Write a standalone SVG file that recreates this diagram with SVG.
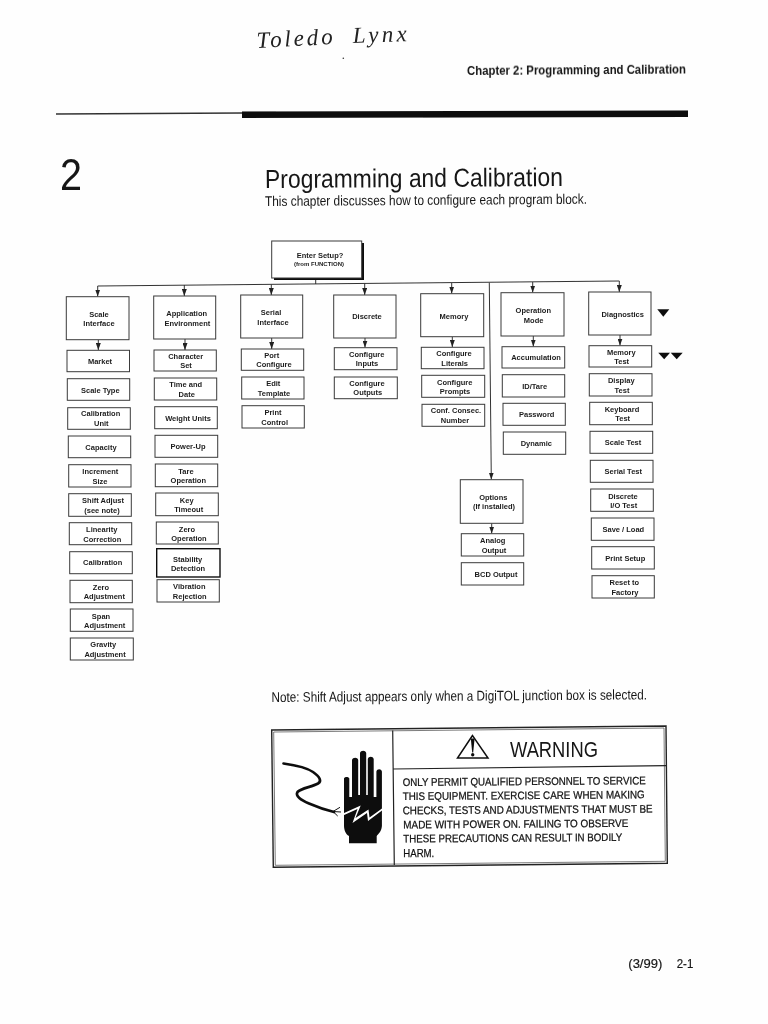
<svg xmlns="http://www.w3.org/2000/svg" width="768" height="1024" viewBox="0 0 768 1024">
<defs>
<style>
.n rect{fill:#fff;stroke:#3a3a3a;stroke-width:1}
.n text{font:bold 7.5px "Liberation Sans",Arial,sans-serif;fill:#1c1c1c;text-anchor:middle}
.c line,.c path{stroke:#333;stroke-width:1;fill:none}
.c .a{marker-end:url(#arr)}
.t{font-family:"Liberation Sans",Arial,sans-serif;fill:#161616}
.h{font-family:"Liberation Serif",serif;font-style:italic;fill:#222}
.w{font-size:11px;font-family:"Liberation Sans",Arial,sans-serif;fill:#111;stroke:#111;stroke-width:.25}
</style>
<marker id="arr" markerUnits="userSpaceOnUse" markerWidth="5" markerHeight="7" refX="2.5" refY="7" orient="0" viewBox="0 0 5 7"><path d="M0 0H5L2.5 7Z" fill="#222"/></marker>
<filter id="scan" x="0" y="0" width="100%" height="100%"><feGaussianBlur stdDeviation="0.35"/></filter>
</defs>
<rect width="768" height="1024" fill="#fefefe"/>
<g filter="url(#scan)">
<text class="h" x="257" y="48" font-size="23" textLength="76" lengthAdjust="spacing" transform="rotate(-3 257 48)">Toledo</text>
<text class="h" x="353" y="43" font-size="23" textLength="54" lengthAdjust="spacing" transform="rotate(-2 353 43)">Lynx</text>
<circle cx="343.3" cy="58.3" r="0.8" fill="#333"/>
<text class="t" x="467" y="75" font-size="12.5" font-weight="bold" textLength="219" lengthAdjust="spacingAndGlyphs" transform="rotate(-0.4 467 75)">Chapter 2: Programming and Calibration</text>
<path d="M56 114L242 113" stroke="#333" stroke-width="1.3" fill="none"/>
<path d="M242 111.5L688 110.5V117L242 118Z" fill="#0c0c0c"/>
<text class="t" x="60" y="190" font-size="44" textLength="22" lengthAdjust="spacingAndGlyphs">2</text>
<text class="t" x="265" y="188" font-size="26" textLength="298" lengthAdjust="spacingAndGlyphs" transform="rotate(-0.4 265 188)">Programming and Calibration</text>
<text class="t" x="265" y="206" font-size="14" textLength="322" lengthAdjust="spacingAndGlyphs" transform="rotate(-0.4 265 206)">This chapter discusses how to configure each program block.</text>

<g id="connectors" class="c">
<path d="M315.7 278V284"/>
<path d="M97.7 286L619.3 281"/>
<line class="a" x1="97.7" y1="286" x2="97.7" y2="296.5"/>
<line class="a" x1="184.3" y1="285" x2="184.3" y2="296"/>
<line class="a" x1="271.3" y1="284.5" x2="271.3" y2="295"/>
<line class="a" x1="364.7" y1="283.5" x2="364.7" y2="295"/>
<line class="a" x1="451.7" y1="283" x2="451.7" y2="293.5"/>
<line class="a" x1="532.7" y1="282" x2="532.7" y2="292.5"/>
<line class="a" x1="619.3" y1="281" x2="619.3" y2="292"/>
<line class="a" x1="98.3" y1="340" x2="98.3" y2="350"/>
<line class="a" x1="185" y1="339" x2="185" y2="350"/>
<line class="a" x1="271.7" y1="338" x2="271.7" y2="349"/>
<line class="a" x1="365" y1="338" x2="365" y2="347.5"/>
<line class="a" x1="452.3" y1="336.7" x2="452.3" y2="347"/>
<line class="a" x1="533.3" y1="336" x2="533.3" y2="346.5"/>
<line class="a" x1="620" y1="335" x2="620" y2="345.5"/>
<line class="a" x1="489.3" y1="282.5" x2="491.3" y2="479.5"/>
<line class="a" x1="491.7" y1="523.3" x2="491.7" y2="533.5"/>
</g>

<g id="enter-setup" class="n"><path d="M274 243H364V280H274Z" fill="#0c0c0c"/><rect x="271.7" y="241" width="90" height="37"/><text x="320" y="258">Enter Setup?</text><text x="319" y="266.3" style="font-size:6px">(from FUNCTION)</text></g>

<g id="scale-interface" class="n"><rect x="66.3" y="296.7" width="62.7" height="43"/><text x="99" y="317">Scale</text><text x="99" y="326.3">Interface</text></g>
<g id="application-environment" class="n"><rect x="153.7" y="296" width="62" height="43"/><text x="186.7" y="316">Application</text><text x="187.3" y="325.7">Environment</text></g>
<g id="serial-interface" class="n"><rect x="240.7" y="295" width="62" height="43"/><text x="271" y="315.3">Serial</text><text x="273" y="325">Interface</text></g>
<g id="discrete" class="n"><rect x="333.7" y="295" width="62.3" height="43"/><text x="367" y="319.3">Discrete</text></g>
<g id="memory" class="n"><rect x="420.7" y="293.7" width="63" height="43"/><text x="454" y="319">Memory</text></g>
<g id="operation-mode" class="n"><rect x="501" y="292.7" width="63" height="43.3"/><text x="533.3" y="313">Operation</text><text x="533.6" y="322.7">Mode</text></g>
<g id="diagnostics" class="n"><rect x="588.7" y="292" width="62.3" height="43"/><text x="622.7" y="317">Diagnostics</text></g>

<g id="market" class="n"><rect x="67" y="350.3" width="62.5" height="21.4"/><text x="100" y="364">Market</text></g>
<g id="scale-type" class="n"><rect x="67.3" y="378.7" width="62.4" height="21.6"/><text x="100.3" y="393">Scale Type</text></g>
<g id="calibration-unit" class="n"><rect x="67.7" y="407.7" width="62.6" height="21.6"/><text x="100.7" y="416.3">Calibration</text><text x="101.3" y="426.3">Unit</text></g>
<g id="capacity" class="n"><rect x="68.3" y="436" width="62.4" height="21.7"/><text x="101" y="450.3">Capacity</text></g>
<g id="increment-size" class="n"><rect x="68.7" y="464.7" width="62.3" height="22.3"/><text x="100.3" y="474.3">Increment</text><text x="100" y="484">Size</text></g>
<g id="shift-adjust" class="n"><rect x="68.7" y="493.7" width="62.6" height="22.6"/><text x="103" y="503.3">Shift Adjust</text><text x="102" y="513">(see note)</text></g>
<g id="linearity-correction" class="n"><rect x="69.3" y="522.7" width="62.4" height="22"/><text x="101.7" y="532">Linearity</text><text x="102.3" y="541.7">Correction</text></g>
<g id="calibration" class="n"><rect x="69.7" y="551.7" width="62.6" height="22"/><text x="102.7" y="565.3">Calibration</text></g>
<g id="zero-adjustment" class="n"><rect x="70" y="580.3" width="62.3" height="22.4"/><text x="101" y="590">Zero</text><text x="104.3" y="599.3">Adjustment</text></g>
<g id="span-adjustment" class="n"><rect x="70.3" y="609" width="62.7" height="22.3"/><text x="101" y="618.7">Span</text><text x="104.7" y="628">Adjustment</text></g>
<g id="gravity-adjustment" class="n"><rect x="70.3" y="638" width="63" height="22"/><text x="103.3" y="647.3">Gravity</text><text x="105" y="657">Adjustment</text></g>

<g id="character-set" class="n"><rect x="154" y="350" width="62.3" height="21"/><text x="185.7" y="358.7">Character</text><text x="186" y="368">Set</text></g>
<g id="time-date" class="n"><rect x="154.3" y="378" width="62.4" height="22"/><text x="185.7" y="387">Time and</text><text x="186.7" y="396.7">Date</text></g>
<g id="weight-units" class="n"><rect x="154.7" y="406.7" width="62.6" height="22"/><text x="188" y="420.7">Weight Units</text></g>
<g id="power-up" class="n"><rect x="155" y="435.3" width="62.7" height="22"/><text x="188" y="449.3">Power-Up</text></g>
<g id="tare-operation" class="n"><rect x="155.3" y="464" width="62.4" height="22.7"/><text x="186" y="473.7">Tare</text><text x="188.3" y="483.3">Operation</text></g>
<g id="key-timeout" class="n"><rect x="155.7" y="493" width="62.6" height="22.7"/><text x="186.7" y="503">Key</text><text x="188.7" y="512">Timeout</text></g>
<g id="zero-operation" class="n"><rect x="156.3" y="522" width="62" height="22"/><text x="187" y="531.7">Zero</text><text x="189" y="541">Operation</text></g>
<g id="stability-detection" class="n"><rect x="156.7" y="548.7" width="63.3" height="28.3" style="stroke:#111;stroke-width:1.4"/><text x="187.7" y="561.7">Stability</text><text x="188" y="571">Detection</text></g>
<g id="vibration-rejection" class="n"><rect x="157" y="579.7" width="62.3" height="22.3"/><text x="189.3" y="589">Vibration</text><text x="189.7" y="598.7">Rejection</text></g>

<g id="port-configure" class="n"><rect x="241.3" y="349" width="62.4" height="21.3"/><text x="271.7" y="358">Port</text><text x="274" y="367.3">Configure</text></g>
<g id="edit-template" class="n"><rect x="241.7" y="377" width="62.3" height="22"/><text x="273.3" y="386.3">Edit</text><text x="274" y="396">Template</text></g>
<g id="print-control" class="n"><rect x="242" y="405.7" width="62.3" height="22.3"/><text x="273" y="415">Print</text><text x="274.7" y="424.7">Control</text></g>

<g id="configure-inputs" class="n"><rect x="334.3" y="347.7" width="62.7" height="22"/><text x="366.7" y="357">Configure</text><text x="367" y="366.3">Inputs</text></g>
<g id="configure-outputs" class="n"><rect x="334.3" y="377" width="63" height="21.7"/><text x="367" y="385.7">Configure</text><text x="367.7" y="395">Outputs</text></g>

<g id="configure-literals" class="n"><rect x="421.3" y="347.3" width="62.7" height="21.4"/><text x="454" y="356.3">Configure</text><text x="454.7" y="365.7">Literals</text></g>
<g id="configure-prompts" class="n"><rect x="421.7" y="375.3" width="63" height="22"/><text x="454.7" y="384.7">Configure</text><text x="455" y="394.3">Prompts</text></g>
<g id="conf-consec-number" class="n"><rect x="422" y="404.3" width="62.7" height="22"/><text x="456" y="413.3">Conf. Consec.</text><text x="455" y="423">Number</text></g>

<g id="accumulation" class="n"><rect x="502" y="346.7" width="62.7" height="21.3"/><text x="536" y="360.3">Accumulation</text></g>
<g id="id-tare" class="n"><rect x="502.3" y="374.7" width="62.4" height="22.3"/><text x="534.7" y="389">ID/Tare</text></g>
<g id="password" class="n"><rect x="503" y="403.3" width="62.3" height="22"/><text x="536.7" y="417.3">Password</text></g>
<g id="dynamic" class="n"><rect x="503.3" y="432" width="62.4" height="22.3"/><text x="536.3" y="446">Dynamic</text></g>

<g id="memory-test" class="n"><rect x="589" y="345.7" width="62.7" height="21.3"/><text x="621.3" y="354.7">Memory</text><text x="621.7" y="364">Test</text></g>
<g id="display-test" class="n"><rect x="589.3" y="373.7" width="62.7" height="22.3"/><text x="621.3" y="383">Display</text><text x="622" y="392.7">Test</text></g>
<g id="keyboard-test" class="n"><rect x="589.7" y="402.3" width="62.6" height="22.4"/><text x="622" y="411.7">Keyboard</text><text x="622.7" y="421.3">Test</text></g>
<g id="scale-test" class="n"><rect x="590" y="431.3" width="62.7" height="22"/><text x="623" y="445.3">Scale Test</text></g>
<g id="serial-test" class="n"><rect x="590.3" y="460.3" width="62.7" height="22"/><text x="623.3" y="474.3">Serial Test</text></g>
<g id="discrete-io-test" class="n"><rect x="590.7" y="489" width="62.6" height="22.3"/><text x="623" y="498.7">Discrete</text><text x="623.7" y="508.3">I/O Test</text></g>
<g id="save-load" class="n"><rect x="591.3" y="518" width="62.7" height="22.3"/><text x="623.3" y="532">Save / Load</text></g>
<g id="print-setup" class="n"><rect x="591.7" y="546.7" width="62.6" height="22.3"/><text x="625.3" y="560.7">Print Setup</text></g>
<g id="reset-factory" class="n"><rect x="592" y="575.7" width="62.3" height="22.3"/><text x="624.3" y="585">Reset to</text><text x="625" y="594.7">Factory</text></g>

<g id="options" class="n"><rect x="460.3" y="479.7" width="62.7" height="43.6"/><text x="493.3" y="500">Options</text><text x="494" y="509.3">(If installed)</text></g>
<g id="analog-output" class="n"><rect x="461.3" y="533.7" width="62.4" height="22.3"/><text x="492.7" y="543.3">Analog</text><text x="494" y="552.7">Output</text></g>
<g id="bcd-output" class="n"><rect x="461.3" y="562.7" width="62.4" height="22.3"/><text x="496" y="576.7">BCD Output</text></g>

<g id="level-markers" fill="#0c0c0c"><path d="M657.3 309.3H669.3L663.3 316.7Z"/><path d="M658.3 352.7H670L664.2 359.3Z"/><path d="M670.7 352.7H682.7L676.7 359.3Z"/></g>

<text class="t" x="271.5" y="702" font-size="14" textLength="375.5" lengthAdjust="spacingAndGlyphs" transform="rotate(-0.4 271.5 702)">Note: Shift Adjust appears only when a DigiTOL junction box is selected.</text>

<g id="warning">
<path d="M271.7 730L666 726L667.3 863.3L273.3 867.3Z" fill="#fff" stroke="#222" stroke-width="1.4"/>
<path d="M273.7 732L664 728L665.3 861.3L275.3 865.3Z" fill="none" stroke="#444" stroke-width="0.7"/>
<path d="M392.7 730.5L394.3 865M392.7 769L666.5 765.7" fill="none" stroke="#222" stroke-width="1.2"/>
<path d="M472.5 735.5L457.5 758H488Z" fill="#fff" stroke="#111" stroke-width="1.5"/>
<path d="M470.8 738.5H474.6L473.2 752.5H472.2Z" fill="#111"/><circle cx="472.7" cy="754.8" r="1.7" fill="#111"/>
<text class="t" x="510" y="757" font-size="22.5" textLength="88" lengthAdjust="spacingAndGlyphs">WARNING</text>
<text class="w" x="402.7" y="786" textLength="243" lengthAdjust="spacingAndGlyphs" transform="rotate(-0.4 402.7 786)">ONLY PERMIT QUALIFIED PERSONNEL TO SERVICE</text>
<text class="w" x="402.7" y="800" textLength="242" lengthAdjust="spacingAndGlyphs" transform="rotate(-0.4 402.7 800)">THIS EQUIPMENT. EXERCISE CARE WHEN MAKING</text>
<text class="w" x="402.7" y="814.3" textLength="250" lengthAdjust="spacingAndGlyphs" transform="rotate(-0.4 402.7 814.3)">CHECKS, TESTS AND ADJUSTMENTS THAT MUST BE</text>
<text class="w" x="403.3" y="828.5" textLength="225" lengthAdjust="spacingAndGlyphs" transform="rotate(-0.4 403.3 828.5)">MADE WITH POWER ON. FAILING TO OBSERVE</text>
<text class="w" x="403.3" y="842.5" textLength="219" lengthAdjust="spacingAndGlyphs" transform="rotate(-0.4 403.3 842.5)">THESE PRECAUTIONS CAN RESULT IN BODILY</text>
<text class="w" x="403.3" y="857" textLength="31" lengthAdjust="spacingAndGlyphs">HARM.</text>
<path d="M283.5 763.5C294 765 306 767 313 772C320 777 322 781 318 783.5C312 787 301 788 297.5 792C295 796 301 800 309 803.5C317 807 326 810 334 812" fill="none" stroke="#111" stroke-width="2.7" stroke-linecap="round"/>
<path d="M333 811.5L340 807.3M333 811.5L341 812M333 811.5L337.7 816" fill="none" stroke="#111" stroke-width="1"/>
<path d="M344 778.5C344.5 776.5 348.7 776.5 349.3 778.5V797H352V760C352.7 757 357.6 757 358.2 760V795H360V753C360.7 750 365.5 750 366.2 753V795H367.8V759C368.5 756 373 756 373.7 759V797H376.4V771.5C377 768.5 381.3 768.5 381.9 771.5V826C381.5 832 378 834 376.7 836V843.3H349V836C345.5 834 344.2 830 344 826Z" fill="#0c0c0c"/>
<path d="M343 813.5L360.7 805.5L355.5 818L368.5 809.5L369.5 817.5L382 808.5L382 810.5L368 821L367 813L352.5 823L357.5 809L343 815.5Z" fill="#fff"/>
</g>
<g class="t" font-size="13" stroke="#161616" stroke-width="0.2"><text x="628.3" y="967.5" textLength="34" lengthAdjust="spacingAndGlyphs">(3/99)</text><text x="676.7" y="967.5" textLength="16.6" lengthAdjust="spacingAndGlyphs">2-1</text></g>
</g>
</svg>
